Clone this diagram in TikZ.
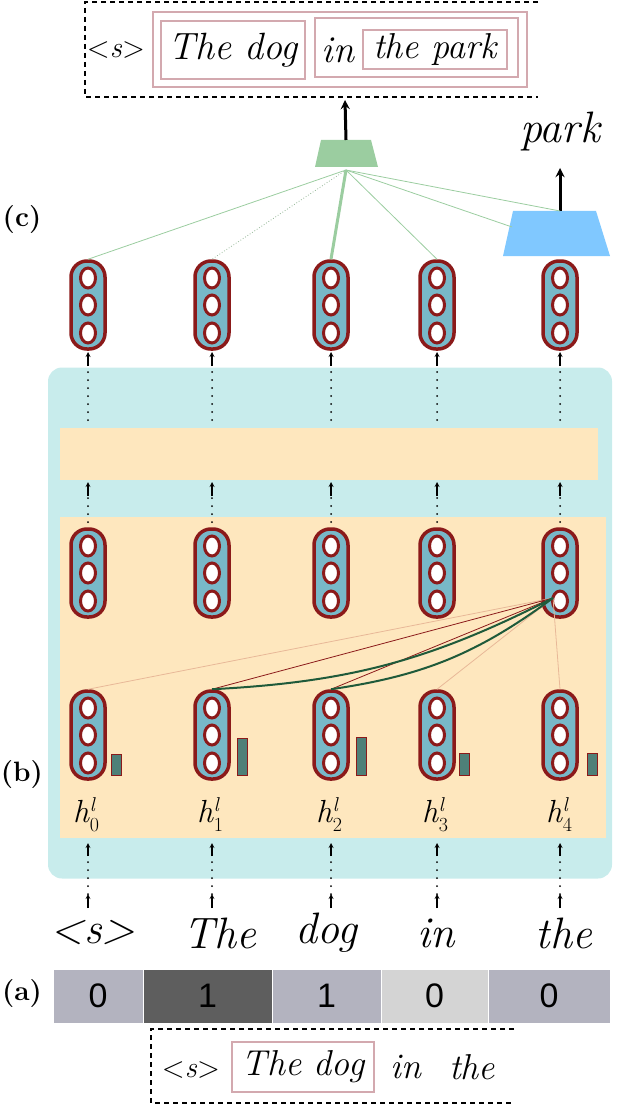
\documentclass[tikz,border=0pt]{standalone}
\usepackage{fontspec}
\newfontfamily\numfont{Liberation Sans}
\usetikzlibrary{calc}
\usetikzlibrary{positioning}
\usetikzlibrary{shapes.geometric}
\definecolor{cellred}{HTML}{8B1A1A}
\definecolor{cellblue}{HTML}{78B8C8}
\definecolor{boxcyan}{HTML}{C8ECEC}
\definecolor{boxorange}{HTML}{FEE7BE}
\definecolor{pinkbox}{HTML}{D3A9AF}
\definecolor{trapgreen}{HTML}{9BCDA0}
\definecolor{trapblue}{HTML}{80C8FF}
\definecolor{bargreen}{HTML}{4E8078}
\definecolor{attgreen}{HTML}{1F5A3A}
\definecolor{attorange}{HTML}{E8B898}
\newcommand{\hstate}[1]{\textit{h}\rlap{\raisebox{11pt}{\fontsize{20}{20}\selectfont\itshape l}}\raisebox{-9pt}{\fontsize{20}{20}\selectfont #1}}
\newcommand{\bos}{<\textit{s}>}
\tikzset{
  cell/.style={draw=cellred,fill=cellblue,line width=3.5pt,rounded corners=16pt,minimum width=34pt,minimum height=88pt,inner sep=0pt},
  unit/.style={draw=cellred,fill=white,ellipse,line width=3pt,minimum width=15pt,minimum height=20pt,inner sep=0pt},
  word/.style={font=\fontsize{44}{44}\selectfont\itshape},
  span/.style={draw=pinkbox,line width=2pt},
  dashbox/.style={line width=2pt,dash pattern=on 5pt off 4pt},
  tag/.style={font=\fontsize{28}{28}\selectfont\bfseries},
  dots/.style={line width=2pt,line cap=round,dash pattern=on 0pt off 8pt},
  tip/.style={->,>=stealth,line width=1.2pt},
}
\begin{document}
\begin{tikzpicture}[x=1pt,y=-1pt]
		\useasboundingbox (0,0) rectangle (622,1107);
		% background boxes
		\node [fill=boxcyan,rounded corners=14pt,minimum width=564pt,minimum height=511pt,inner sep=0pt] (enc) at (330,623) {};
		\node [fill=boxorange,minimum width=538pt,minimum height=52pt,inner sep=0pt] (band) at (329,454) {};
		\node [fill=boxorange,minimum width=546pt,minimum height=321pt,inner sep=0pt] (layer) at (333,677) {};

		% cells
		\foreach \x [count=\i from 0] in {88,212,331,437,560} {
			\foreach \y/\n in {305/top,573/mid,735/bot} {
				\node [cell] (\n\i) at (\x,\y) {};
				\node [unit] at ($(\n\i)+(0,-27)$) {};
				\node [unit] at ($(\n\i)+(0,0)$) {};
				\node [unit] at ($(\n\i)+(0,28)$) {};
			}
			\draw [dots] (\x,902) -- (\x,852);
			\draw [tip] (\x,908) -- (\x,894);
			\draw [tip] (\x,856) -- (\x,843);
			\draw [dots] (\x,522) -- (\x,492);
			\draw [tip] (\x,496) -- (\x,482);
			\draw [dots] (\x,420) -- (\x,364);
			\draw [tip] (\x,366) -- (\x,352);
		}

		% gate bars
		\foreach \i/\x/\t in {0/116/754,1/242/738,2/361/737,3/464/753,4/592/753}
			\node [fill=bargreen,draw=cellred,line width=0.5pt,anchor=north,minimum width=10pt,minimum height={775-\t},inner sep=0pt] (bar\i) at (\x,\t) {};

		% states
		\foreach \x [count=\i from 0] in {86,210,329,435,559}
			\node [font=\fontsize{32}{32}\selectfont,inner sep=0pt] (h\i) at (\x,815) {\hstate{\i}};

		% attention in layer
		\coordinate (src) at (553,598);
		\draw [attorange,line width=0.8pt] (src) -- (bot0.north);
		\draw [cellred,line width=0.8pt] (src) -- (bot1.north);
		\draw [cellred,line width=0.8pt] (src) -- (bot2.north);
		\draw [attorange,line width=0.8pt] (src) -- (bot3.north);
		\draw [attorange,line width=0.8pt] (src) -- (bot4.north);
		\draw [attgreen,line width=2pt] (src) to [bend left=12] (bot1.north);
		\draw [attgreen,line width=2pt] (src) to [bend left=14] (bot2.north);

		% words
		\foreach \x/\t [count=\i from 0] in {93/\bos,220/The,326/dog,436/in,564/the}
			\node [word] (word\i) at (\x,933) {\t};

		% gate values
		\foreach \a/\b/\c/\v [count=\i from 0] in {53/143/B3B3BF/0,143/272/5E5E5E/1,272/381/B3B3BF/1,381/488/D4D4D4/0,488/610/B3B3BF/0} {
			\definecolor{gc}{HTML}{\c}
			\fill [gc,draw=white,line width=0.8pt] (\a,969) rectangle (\b,1023);
			\node [font=\fontsize{34}{34}\selectfont\numfont] (g\i) at ({(\a+\b)/2},996) {\v};
		}

		% tags
		\node [tag] (ta) at (22,994) {(a)};
		\node [tag] (tb) at (22,775) {(b)};
		\node [tag] (tc) at (22,220) {(c)};

		% bottom partial tree
		\draw [dashbox] (514,1029) -- (151,1029) -- (151,1103) -- (514,1103);
		\node [font=\fontsize{30}{30}\selectfont] (bs) at (191,1070) {\bos};
		\node [span,minimum width=142pt,minimum height=50pt,font=\fontsize{36}{36}\selectfont\itshape] (bdog) at (303,1067) {The dog};
		\node [font=\fontsize{36}{36}\selectfont\itshape] (bin) at (406,1067) {in};
		\node [font=\fontsize{36}{36}\selectfont\itshape] (bthe) at (472,1067) {the};

		% top tree
		\draw [dashbox] (538,2) -- (85,2) -- (85,97) -- (538,97);
		\node [span,minimum width=374pt,minimum height=75pt] (tall) at (340,50) {};
		\node [span,minimum width=144pt,minimum height=58pt,font=\fontsize{38}{38}\selectfont\itshape] (tdog) at (233,50) {The dog};
		\node [span,minimum width=203pt,minimum height=59pt] (tpark) at (416,48) {};
		\node [font=\fontsize{38}{38}\selectfont\itshape] (tin) at (338,50) {in};
		\node [span,minimum width=144pt,minimum height=39pt,font=\fontsize{36}{36}\selectfont\itshape] (tthe) at (435,50) {the park};
		\node [font=\fontsize{30}{30}\selectfont] (ts) at (116,50) {\bos};

		% decoders
		\fill [trapgreen] (315,167) -- (321,140) -- (371,140) -- (378,167) -- cycle;
		\coordinate (parse) at (346,140);
		\fill [trapblue] (503,256) -- (513,211) -- (596,211) -- (610,256) -- cycle;
		\coordinate (lm) at (560,211);
		\coordinate (lmleft) at (512,227);
		\coordinate (apex) at (346,170);
		\draw [->,>=stealth,line width=3pt] (parse) -- (345,100);
		\draw [->,>=stealth,line width=3pt] (lm) -- ++(0,-43);
		\node [word] (park) at (560,132) {park};

		\draw [trapgreen,line width=0.8pt] (apex) -- (top0.north);
		\draw [trapgreen!70!gray,line width=0.8pt,dotted] (apex) -- (top1.north);
		\draw [trapgreen,line width=3pt] (apex) -- (top2.north);
		\draw [trapgreen,line width=0.8pt] (apex) -- (top3.north);
		\draw [trapgreen,line width=0.8pt] (apex) -- (lmleft);
		\draw [trapgreen,line width=0.8pt] (apex) -- (lm);
	\end{tikzpicture}
\end{document}
